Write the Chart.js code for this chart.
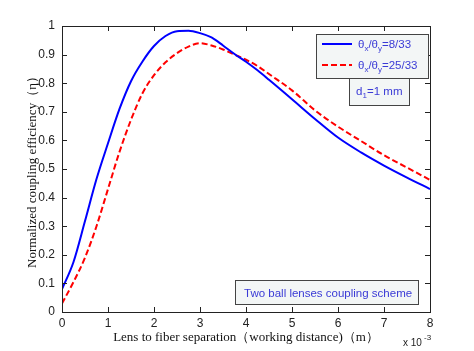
<!DOCTYPE html>
<html>
<head>
<meta charset="utf-8">
<script src="https://cdn.jsdelivr.net/npm/chart.js@4.4.0/dist/chart.umd.min.js"></script>
<style>
html,body{margin:0;padding:0;background:#fff;}
#wrap{width:474px;height:351px;position:relative;}
</style>
</head>
<body>
<div id="wrap"><canvas id="c" width="474" height="351"></canvas></div>
<script>
const separation = [0, 0.25, 0.5, 0.75, 1, 1.25, 1.5, 1.75, 2, 2.25, 2.5, 2.75, 3, 3.25, 3.5, 3.75, 4, 4.25, 4.5, 5, 5.5, 6, 6.5, 7, 7.5, 8];
const ratio8_33 = [0.08, 0.175, 0.318, 0.465, 0.59, 0.71, 0.807, 0.876, 0.93, 0.965, 0.982, 0.983, 0.975, 0.96, 0.932, 0.902, 0.875, 0.845, 0.812, 0.744, 0.675, 0.61, 0.558, 0.512, 0.47, 0.43];
const ratio25_33 = [0.03, 0.105, 0.19, 0.30, 0.43, 0.56, 0.672, 0.765, 0.828, 0.873, 0.905, 0.928, 0.94, 0.932, 0.918, 0.9, 0.882, 0.86, 0.832, 0.775, 0.705, 0.648, 0.598, 0.548, 0.505, 0.462];
const xTicks = [0, 1, 2, 3, 4, 5, 6, 7, 8];
const yTicks = [0, 0.1, 0.2, 0.3, 0.4, 0.5, 0.6, 0.7, 0.8, 0.9, 1];
const seriesNames = ["8/33", "25/33"];
const xTitle = "Lens to fiber separation\uFF08working distance)\uFF08m\uFF09";
const yTitle = "Normalized coupling efficiency\uFF08\u03B7\uFF09";
const noteText = "Two ball lenses coupling scheme";

const pts = a => a.map((v, i) => ({x: separation[i], y: v}));
const textBlue = '#3a3ad6';
const boxFill = '#f3f6f6';
const boxEdge = '#444';
const SANS = '"Liberation Sans", Arial, sans-serif';

const deco = {
  id: 'deco',
  afterDraw(chart) {
    const ctx = chart.ctx;
    const a = chart.chartArea;
    const xs = chart.scales.x, ys = chart.scales.y;
    ctx.save();
    ctx.strokeStyle = '#222';
    ctx.lineWidth = 1;
    ctx.strokeRect(Math.round(a.left) + 0.5, Math.round(a.top) + 0.5, Math.round(a.right - a.left), Math.round(a.bottom - a.top));
    ctx.beginPath();
    xTicks.forEach(t => {
      const p = Math.round(xs.getPixelForValue(t)) + 0.5;
      ctx.moveTo(p, a.bottom); ctx.lineTo(p, a.bottom - 5);
      ctx.moveTo(p, a.top); ctx.lineTo(p, a.top + 5);
    });
    yTicks.forEach(t => {
      const p = Math.round(ys.getPixelForValue(t)) + 0.5;
      ctx.moveTo(a.left, p); ctx.lineTo(a.left + 5, p);
      ctx.moveTo(a.right, p); ctx.lineTo(a.right - 5, p);
    });
    ctx.stroke();

    ctx.fillStyle = '#222';
    ctx.font = '10px ' + SANS;
    ctx.textBaseline = 'alphabetic';
    ctx.textAlign = 'left';
    ctx.fillText('x 10', 403, 346);
    ctx.font = '8px ' + SANS;
    ctx.fillText('-3', 424, 340);

    const lx = 316, ly = 34, lw = 112, lh = 44;
    ctx.fillStyle = boxFill;
    ctx.fillRect(lx, ly, lw, lh);
    ctx.strokeStyle = boxEdge;
    ctx.strokeRect(lx + 0.5, ly + 0.5, lw, lh);
    const ds = chart.data.datasets;
    const rows = [44, 65];
    ds.forEach((d, i) => {
      ctx.save();
      ctx.strokeStyle = d.borderColor;
      ctx.lineWidth = d.borderWidth;
      ctx.setLineDash(d.borderDash || []);
      ctx.beginPath();
      ctx.moveTo(322, rows[i]); ctx.lineTo(352, rows[i]);
      ctx.stroke();
      ctx.restore();
      drawTheta(ctx, 358, rows[i] + 4, seriesNames[i]);
    });
    ctx.fillStyle = boxFill;
    ctx.fillRect(349, 78, 60, 27);
    ctx.strokeStyle = boxEdge;
    ctx.strokeRect(349.5, 78.5, 60, 27);
    ctx.fillStyle = textBlue;
    ctx.font = '11.5px ' + SANS;
    ctx.fillText('d', 356, 95);
    ctx.font = '8px ' + SANS;
    ctx.fillText('1', 362.5, 98);
    ctx.font = '11.5px ' + SANS;
    ctx.fillText('=1 mm', 367, 95);

    ctx.fillStyle = boxFill;
    ctx.fillRect(235, 280, 183, 24);
    ctx.strokeStyle = boxEdge;
    ctx.strokeRect(235.5, 280.5, 183, 24);
    ctx.fillStyle = textBlue;
    ctx.font = '11.5px ' + SANS;
    ctx.fillText(noteText, 244, 297);
    ctx.restore();
  }
};

function drawTheta(ctx, x, y, val) {
  ctx.fillStyle = textBlue;
  const big = '11.5px ' + SANS;
  const small = '8px ' + SANS;
  let cx = x;
  const seg = (t, f, dy) => { ctx.font = f; ctx.fillText(t, cx, y + dy); cx += ctx.measureText(t).width; };
  seg('\u03B8', big, 0);
  seg('x', small, 3);
  seg('/\u03B8', big, 0);
  seg('y', small, 3);
  seg('=' + val, big, 0);
}

new Chart(document.getElementById('c'), {
  type: 'scatter',
  data: {
    datasets: [
      {label: seriesNames[0], data: pts(ratio8_33), showLine: true, borderColor: '#0000ff', backgroundColor: '#0000ff', borderWidth: 2, pointRadius: 0, cubicInterpolationMode: 'monotone'},
      {label: seriesNames[1], data: pts(ratio25_33), showLine: true, borderColor: '#ff0000', backgroundColor: '#ff0000', borderWidth: 2, borderDash: [6, 3], pointRadius: 0, cubicInterpolationMode: 'monotone'}
    ]
  },
  options: {
    responsive: false,
    animation: false,
    layout: {padding: {top: 26, right: 44, left: 0, bottom: 0}},
    plugins: {legend: {display: false}, tooltip: {enabled: false}},
    scales: {
      x: {
        type: 'linear', min: 0, max: 8,
        afterBuildTicks: s => { s.ticks = xTicks.map(v => ({value: v})); },
        afterFit: s => { s.height = 39; },
        grid: {display: false, drawTicks: false},
        border: {display: false},
        ticks: {padding: 4, color: '#222', font: {family: SANS, size: 12}, maxRotation: 0, callback: v => String(v)},
        title: {display: true, text: xTitle, color: '#111', font: {family: '"Liberation Serif", "Times New Roman", serif', size: 13}, padding: {top: 0, bottom: 6}}
      },
      y: {
        type: 'linear', min: 0, max: 1,
        afterBuildTicks: s => { s.ticks = yTicks.map(v => ({value: v})); },
        afterFit: s => { s.width = 62; },
        grid: {display: false, drawTicks: false},
        border: {display: false},
        ticks: {padding: 7, color: '#222', font: {family: SANS, size: 12}, callback: v => String(Math.round(v * 10) / 10)},
        title: {display: true, text: yTitle, color: '#111', font: {family: '"Liberation Serif", "Times New Roman", serif', size: 13}, padding: {top: 25, bottom: 0}}
      }
    }
  },
  plugins: [deco]
});
</script>
</body>
</html>
